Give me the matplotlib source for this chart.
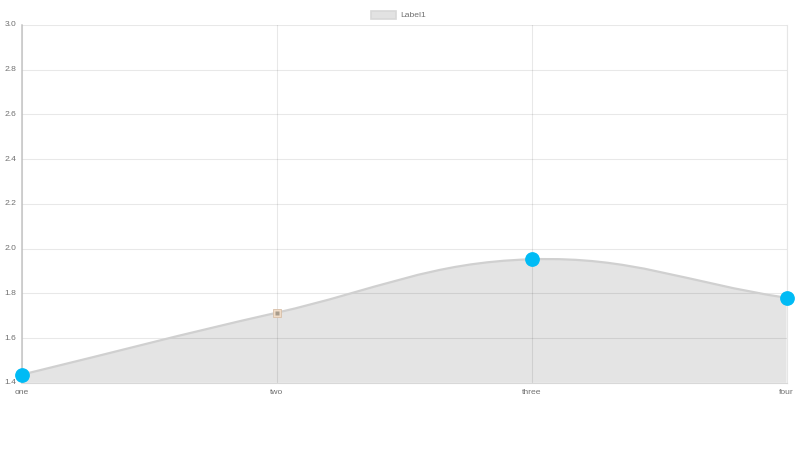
import numpy as np
import matplotlib
matplotlib.use("Agg")
import matplotlib.pyplot as plt
from matplotlib.path import Path
from matplotlib.patches import PathPatch, Rectangle
from matplotlib.transforms import ScaledTranslation

plt.rcParams['font.family'] = ['Liberation Sans', 'DejaVu Sans']

labels = ['one', 'two', 'three', 'four']
values = [1.436, 1.713, 1.952, 1.78]
y_ticks = [1.4, 1.6, 1.8, 2.0, 2.2, 2.4, 2.6, 2.8, 3.0]
series_name = 'Label1'

TENSION = 0.4
TEXT = '#707070'
FILL = '#e4e4e4'
LINE = '#d0d0d0'
DOT = '#00bbf5'


def spline_path(ax, xs, ys):
    # same control points as a monotone-free cardinal spline, worked out in pixels
    pts = ax.transData.transform(np.column_stack([xs, ys]))
    n = len(pts)
    before, after = [None] * n, [None] * n
    for i in range(n):
        prev = pts[max(i - 1, 0)]
        nxt = pts[min(i + 1, n - 1)]
        d01 = np.hypot(*(pts[i] - prev))
        d12 = np.hypot(*(nxt - pts[i]))
        total = d01 + d12
        before[i] = pts[i] - TENSION * d01 / total * (nxt - prev)
        after[i] = pts[i] + TENSION * d12 / total * (nxt - prev)
    verts = [pts[0]]
    codes = [Path.MOVETO]
    for i in range(n - 1):
        verts += [after[i], before[i + 1], pts[i + 1]]
        codes += [Path.CURVE4] * 3
    return ax.transData.inverted().transform(np.array(verts)), codes


fig = plt.figure(figsize=(8, 4.5), dpi=100)
ax = fig.add_axes([21.5 / 800, 1 - 382.8 / 450, 765 / 800, 358 / 450])

x = np.arange(len(labels))
ax.set_xlim(0, len(labels) - 1)
ax.set_ylim(y_ticks[0], y_ticks[-1])

ax.set_xticks(x, labels)
ax.set_yticks(y_ticks, [f'{t:.1f}' for t in y_ticks])
ax.grid(True, color='black', alpha=0.09, lw=0.8)
ax.set_axisbelow('line')
ax.tick_params(length=0, labelsize=6.1, labelcolor=TEXT)
ax.tick_params(axis='x', pad=4.6)
ax.tick_params(axis='y', pad=3.6)

# y labels sit a pixel above their grid lines
nudge = ScaledTranslation(0, 1 / 100, fig.dpi_scale_trans)
for tick_label in ax.get_yticklabels():
    tick_label.set_transform(tick_label.get_transform() + nudge)

for name, spine in ax.spines.items():
    spine.set_color('#e6e6e6')
    spine.set_linewidth(0.8)
ax.spines['top'].set_visible(False)
ax.spines['left'].set_color('#c4c4c4')
ax.spines['left'].set_linewidth(1.1)
ax.spines['bottom'].set_color('#d8d8d8')

verts, codes = spline_path(ax, x, values)

# filled area down to the axis, then the line on top
fill_verts = np.vstack([verts, [x[-1], y_ticks[0]], [x[0], y_ticks[0]], verts[0]])
fill_codes = codes + [Path.LINETO, Path.LINETO, Path.CLOSEPOLY]
ax.add_patch(PathPatch(Path(fill_verts, fill_codes), fc=FILL, ec='none', zorder=1))
ax.add_patch(PathPatch(Path(verts, codes), fc='none', ec=LINE, lw=1.6, zorder=3, clip_on=False))

# points: the second one is a small image-like icon in the original
dots = [0, 2, 3]
ax.plot(x[dots], np.array(values)[dots], 'o', ms=9.6, color=DOT, mec=DOT, zorder=5, clip_on=False)
ax.plot(x[1], values[1], 's', ms=6, mfc='#f0dcc8', mec='#d8bfa8', mew=0.6, zorder=5)
ax.plot(x[1], values[1], 's', ms=3, mfc='#a89c8c', mec='none', zorder=6)

# legend box at the top
fig.add_artist(Rectangle((371 / 800, 1 - 18.5 / 450), 25 / 800, 7.5 / 450, transform=fig.transFigure,
                         fc='#e2e2e2', ec='#d8d8d8', lw=1.2))
fig.text(400 / 800, 1 - 15.5 / 450, series_name, fontsize=6.1, color=TEXT, va='center', ha='left')

fig.savefig('out.png', dpi=100)
